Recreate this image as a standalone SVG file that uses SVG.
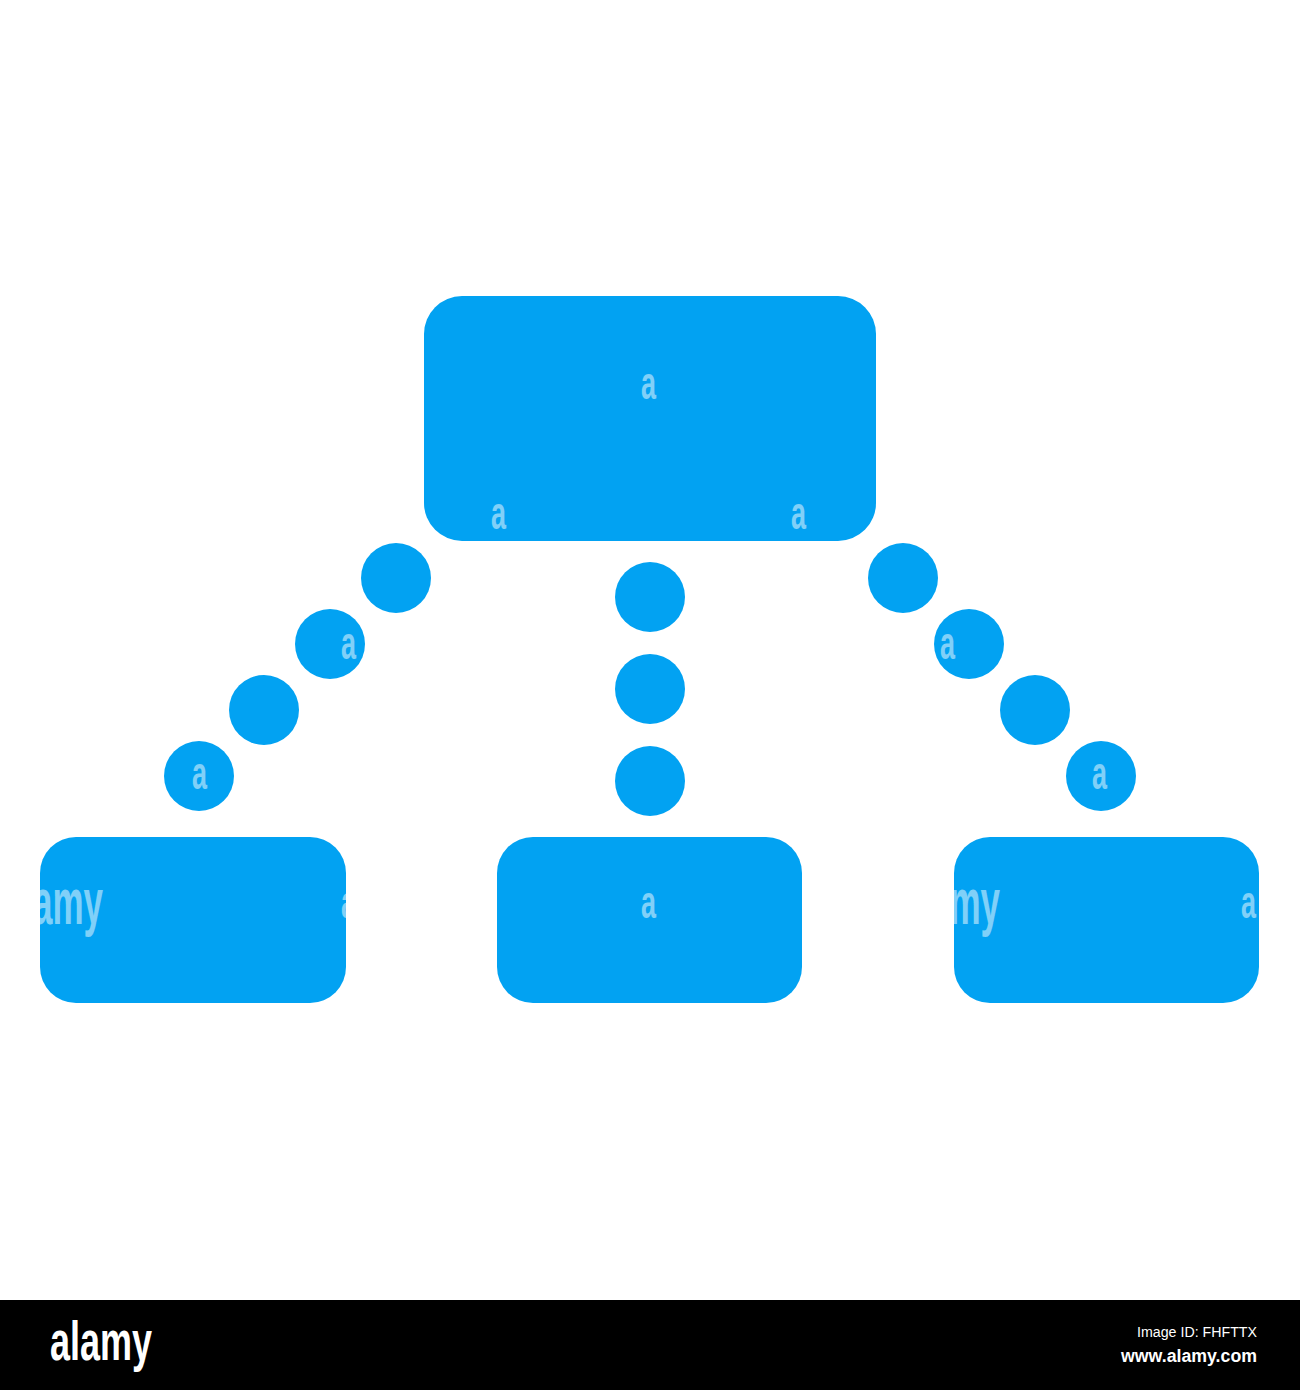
<svg xmlns="http://www.w3.org/2000/svg" width="1300" height="1390" viewBox="0 0 1300 1390">
<style>
.box{fill:#02A2F2}
.dot{fill:#02A2F2}
.wm{fill:#ffffff;fill-opacity:0.5;font-family:"Liberation Sans Narrow","Liberation Sans",sans-serif;font-weight:bold}
.bar{fill:#ffffff;font-family:"Liberation Sans Narrow","Liberation Sans",sans-serif}
</style>
<rect x="0" y="0" width="1300" height="1390" fill="#ffffff"/>
<g id="connectors">
<circle class="dot" cx="396" cy="578" r="35"/>
<circle class="dot" cx="330" cy="644" r="35"/>
<circle class="dot" cx="264" cy="710" r="35"/>
<circle class="dot" cx="199" cy="776" r="35"/>
<circle class="dot" cx="650" cy="597" r="35"/>
<circle class="dot" cx="650" cy="689" r="35"/>
<circle class="dot" cx="650" cy="781" r="35"/>
<circle class="dot" cx="903" cy="578" r="35"/>
<circle class="dot" cx="969" cy="644" r="35"/>
<circle class="dot" cx="1035" cy="710" r="35"/>
<circle class="dot" cx="1101" cy="776" r="35"/>
</g>
<g id="top">
<rect class="box" x="424" y="296" width="452" height="245" rx="38"/>
</g>
<g id="bottom-left">
<rect class="box" x="40" y="837" width="306" height="166" rx="36"/>
</g>
<g id="bottom-middle">
<rect class="box" x="497" y="837" width="305" height="166" rx="36"/>
</g>
<g id="bottom-right">
<rect class="box" x="954" y="837" width="305" height="166" rx="36"/>
</g>
<g id="watermark">
<text class="wm" x="641" y="399" font-size="46" textLength="15" lengthAdjust="spacingAndGlyphs">a</text>
<text class="wm" x="491" y="529" font-size="46" textLength="15" lengthAdjust="spacingAndGlyphs">a</text>
<text class="wm" x="791" y="529" font-size="46" textLength="15" lengthAdjust="spacingAndGlyphs">a</text>
<text class="wm" x="341" y="659" font-size="46" textLength="15" lengthAdjust="spacingAndGlyphs">a</text>
<text class="wm" x="192" y="789" font-size="46" textLength="15" lengthAdjust="spacingAndGlyphs">a</text>
<text class="wm" x="940" y="659" font-size="46" textLength="15" lengthAdjust="spacingAndGlyphs">a</text>
<text class="wm" x="1092" y="789" font-size="46" textLength="15" lengthAdjust="spacingAndGlyphs">a</text>
<text class="wm" x="641" y="918" font-size="46" textLength="15" lengthAdjust="spacingAndGlyphs">a</text>
<text class="wm" x="103" y="924" font-size="64" text-anchor="end" textLength="70" lengthAdjust="spacingAndGlyphs">amy</text>
<text class="wm" x="1000" y="924" font-size="64" text-anchor="end" textLength="70" lengthAdjust="spacingAndGlyphs">amy</text>
<text class="wm" x="341" y="918" font-size="46" textLength="15" lengthAdjust="spacingAndGlyphs">a</text>
<text class="wm" x="1241" y="918" font-size="46" textLength="15" lengthAdjust="spacingAndGlyphs">a</text>
</g>
<g id="footer">
<rect x="0" y="1300" width="1300" height="90" fill="#000000"/>
<text class="bar" x="50" y="1360" font-size="56" font-weight="bold" textLength="102" lengthAdjust="spacingAndGlyphs">alamy</text>
<text class="bar" x="1257" y="1337" font-size="14" text-anchor="end" textLength="120" lengthAdjust="spacingAndGlyphs">Image ID: FHFTTX</text>
<text class="bar" x="1257" y="1362" font-size="18" font-weight="bold" text-anchor="end" textLength="136" lengthAdjust="spacingAndGlyphs">www.alamy.com</text>
</g>
</svg>
